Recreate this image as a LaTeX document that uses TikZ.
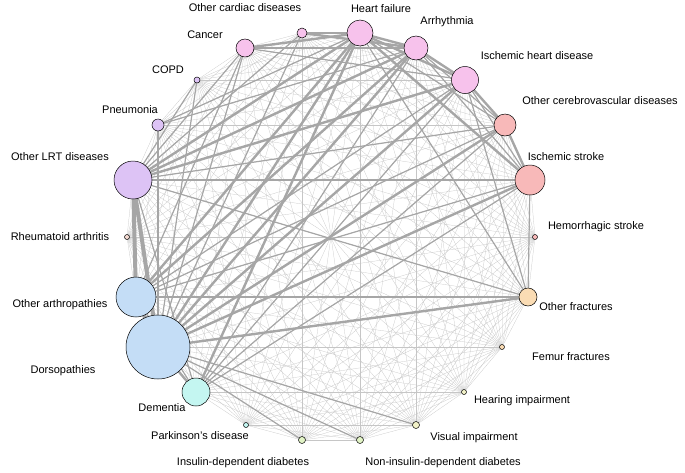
\documentclass[tikz,border=0pt]{standalone}
\usepackage{fontspec}
\setmainfont{Liberation Sans}
\begin{document}
\begin{tikzpicture}[x=1pt,y=-1pt,
  dis/.style={circle,draw=black,line width=0.5pt,inner sep=0pt},
  lab/.style={font=\fontsize{11}{13}\selectfont,inner sep=0pt},
  thin/.style={draw=gray!45,line width=0.25pt},
  e/.style={draw=gray!70,line width=#1}]
\useasboundingbox (0,0) rectangle (685,472);
\definecolor{cpink}{HTML}{F7C2EC}
\definecolor{csal}{HTML}{F8B9B9}
\definecolor{cfrac}{HTML}{FADCB4}
\definecolor{cimp}{HTML}{F2F2C8}
\definecolor{cdia}{HTML}{E2F4C6}
\definecolor{cdem}{HTML}{C4F6F1}
\definecolor{cdor}{HTML}{C4DDF6}
\definecolor{clrt}{HTML}{DDC3F5}
\definecolor{crh}{HTML}{F3D9D0}
% node coordinates
\foreach \n/\x/\y in {hf/360/33, ar/416/48, ihd/465/80, ocv/505/125, is/530/180, hs/535/237, of/528/297, ff/502/347, hi/464/392, vi/416/425, ni/360/440, id/302/440, pd/246/425, de/196/392, dor/158/347, oa/136/297, ra/127/237, lrt/133/180, pn/158/125, copd/197/80, ca/245/48, oc/302/33}
  \coordinate (\n) at (\x,\y);
% thin edges: complete graph
\foreach \a [count=\i] in {hf,ar,ihd,ocv,is,hs,of,ff,hi,vi,ni,id,pd,de,dor,oa,ra,lrt,pn,copd,ca,oc}{
  \foreach \b [count=\j] in {hf,ar,ihd,ocv,is,hs,of,ff,hi,vi,ni,id,pd,de,dor,oa,ra,lrt,pn,copd,ca,oc}{
    \ifnum\i<\j \draw[thin] (\a) -- (\b); \fi }}
% medium edges
\foreach \a/\b in {ca/dor,ca/lrt,ca/oa,oc/dor,oc/lrt,pn/dor,pn/hf,pn/ar,de/ar,de/ihd,de/is,de/ocv,oa/ihd,oa/is,oa/ocv,oa/of,lrt/ocv,lrt/of,ca/ar,ca/ihd,hf/ocv,ar/is,ihd/is,dor/vi,dor/ni,dor/id,oa/de,lrt/de,copd/dor,copd/lrt,oc/hf,ar/ocv,is/of,ihd/of,hf/of}
  \draw[e=1.2pt] (\a) -- (\b);
% thick edges
\foreach \a/\b in {dor/hf,dor/ar,dor/ihd,dor/ocv,dor/is,dor/of,oa/hf,oa/ar,lrt/hf,lrt/ar,lrt/ihd,lrt/is,hf/is,hf/ar,ar/ihd,hf/ihd,de/hf,de/dor,ca/hf,ihd/ocv,ocv/is,oc/ar}
  \draw[e=2.4pt] (\a) -- (\b);
\foreach \a/\b in {dor/lrt,oa/lrt,dor/oa}
  \draw[e=4pt] (\a) -- (\b);
% nodes
\foreach \n/\r/\c in {hf/13/cpink, ar/12/cpink, ihd/13.5/cpink, ocv/11/csal, is/15/csal, hs/2.5/csal, of/9/cfrac, ff/2.5/cfrac, hi/2.5/cimp, vi/3.5/cimp, ni/3.5/cdia, id/3.5/cdia, pd/2.5/cdem, de/14/cdem, dor/32/cdor, oa/20/cdor, ra/2.5/crh, lrt/19/clrt, pn/6/clrt, copd/3/clrt, ca/9/cpink, oc/5/cpink}
  \node[dis,fill=\c,minimum size=2*\r] (n\n) at (\n) {};
% labels
\node[lab] (lhf) at (381,9) {Heart failure};
\node[lab] (lar) at (447,22) {Arrhythmia};
\node[lab] (lihd) at (537,56) {Ischemic heart disease};
\node[lab] (locv) at (600,101) {Other cerebrovascular diseases};
\node[lab] (lis) at (566,157) {Ischemic stroke};
\node[lab] (lhs) at (596,227) {Hemorrhagic stroke};
\node[lab] (lof) at (576,307) {Other fractures};
\node[lab] (lff) at (571,357) {Femur fractures};
\node[lab] (lhi) at (522,401) {Hearing impairment};
\node[lab] (lvi) at (474,438) {Visual impairment};
\node[lab] (lni) at (443,463) {Non-insulin-dependent diabetes};
\node[lab] (lid) at (243,463) {Insulin-dependent diabetes};
\node[lab] (lpd) at (200,436) {Parkinson's disease};
\node[lab] (lde) at (162,408) {Dementia};
\node[lab] (ldor) at (63,371) {Dorsopathies};
\node[lab] (loa) at (60,305) {Other arthropathies};
\node[lab] (lra) at (60,237) {Rheumatoid arthritis};
\node[lab] (llrt) at (60,157) {Other LRT diseases};
\node[lab] (lpn) at (130,110) {Pneumonia};
\node[lab] (lcopd) at (168,70) {COPD};
\node[lab] (lca) at (205,35) {Cancer};
\node[lab] (loc) at (245,8) {Other cardiac diseases};
\end{tikzpicture}
\end{document}
